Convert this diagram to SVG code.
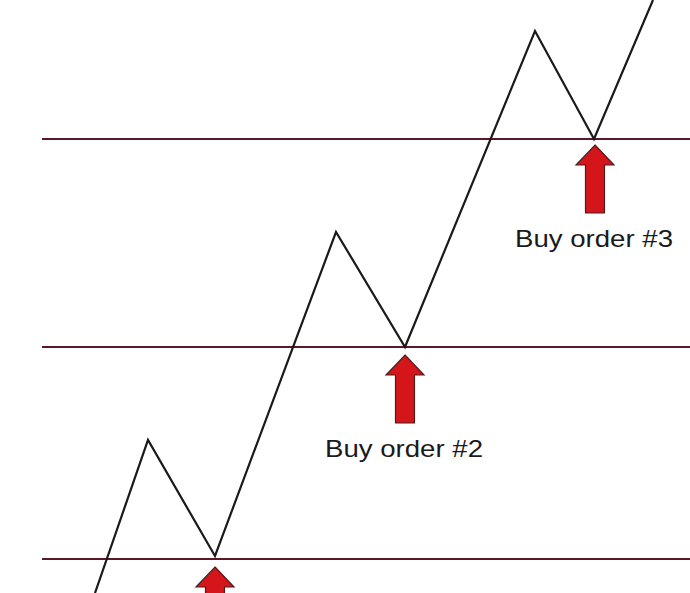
<svg xmlns="http://www.w3.org/2000/svg" width="690" height="593" viewBox="0 0 690 593">
<defs>
<style>
.level{stroke:#5a1828;stroke-width:2;fill:none}
.price{stroke:#1a1a1a;stroke-width:2.2;fill:none;stroke-linejoin:miter}
.arrow{fill:#d4161b;stroke:#4a1f1f;stroke-width:1.2;stroke-linejoin:miter}
.label{font-family:"Liberation Sans",Arial,sans-serif;font-size:24px;fill:#1a1a1a}
</style>
<path id="up" d="M0,0 L19,20 L9.5,20 L9.5,68 L-9.5,68 L-9.5,20 L-19,20 Z"/>
</defs>
<rect width="690" height="593" fill="#ffffff"/>
<g id="levels">
<line class="level" x1="42" y1="139" x2="690" y2="139"/>
<line class="level" x1="42" y1="347" x2="690" y2="347"/>
<line class="level" x1="42" y1="559" x2="690" y2="559"/>
</g>
<g id="connectors">
<polyline class="price" points="95,593 148,440 215,556 336,232 405,347 535,31 594,139 653,0"/>
</g>
<g id="order1">
<use href="#up" class="arrow" transform="translate(215,567)"/>
</g>
<g id="order2">
<use href="#up" class="arrow" transform="translate(405,355)"/>
<text class="label" x="325" y="457" textLength="158" lengthAdjust="spacingAndGlyphs">Buy order #2</text>
</g>
<g id="order3">
<use href="#up" class="arrow" transform="translate(595,145)"/>
<text class="label" x="515" y="247" textLength="158" lengthAdjust="spacingAndGlyphs">Buy order #3</text>
</g>
</svg>
